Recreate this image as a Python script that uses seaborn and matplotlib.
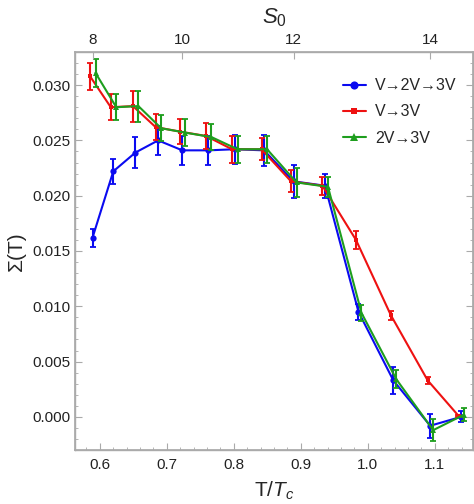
import numpy as np
import matplotlib
matplotlib.use("Agg")
import matplotlib.pyplot as plt
import matplotlib.transforms as mtransforms
from matplotlib.ticker import MultipleLocator, FormatStrFormatter
import seaborn as sns

# --- data ---
t_tc = [0.589, 0.620, 0.653, 0.687, 0.723, 0.762, 0.801,
        0.845, 0.889, 0.936, 0.986, 1.038, 1.093, 1.139]
s0 = [8.0, 8.5, 9.0, 9.5, 10.0, 10.5, 11.0,
      11.5, 12.0, 12.5, 13.0, 13.5, 14.0, 14.5]
s0_ticks = [8, 10, 12, 14]

sigma_v2v3v = [0.0162, 0.0222, 0.0239, 0.0250, 0.0241, 0.0241, 0.0242,
               0.0241, 0.0213, 0.0209, 0.0095, 0.0033, -0.0008, 0.0000]
err_v2v3v = [0.0008, 0.0011, 0.0014, 0.0013, 0.0013, 0.0013, 0.0013,
             0.0014, 0.0015, 0.0011, 0.0007, 0.0012, 0.0011, 0.0005]

sigma_v3v = [0.0308, 0.0280, 0.0281, 0.0262, 0.0258, 0.0254, 0.0242,
             0.0242, 0.0213, 0.0209, 0.0160, 0.0092, 0.0033, 0.0001]
err_v3v = [0.0012, 0.0012, 0.0014, 0.0012, 0.0011, 0.0012, 0.0012,
           0.0010, 0.0010, 0.0008, 0.0008, 0.0004, 0.0003, 0.0001]

sigma_2v3v = [0.0311, 0.0280, 0.0281, 0.0261, 0.0257, 0.0253, 0.0242,
              0.0242, 0.0212, 0.0208, 0.0094, 0.0034, -0.0012, 0.0002]
err_2v3v = [0.0013, 0.0012, 0.0014, 0.0012, 0.0012, 0.0012, 0.0012,
            0.0012, 0.0013, 0.0009, 0.0007, 0.0008, 0.0010, 0.0006]

# --- style ---
sns.set_theme(style="ticks")
plt.rcParams['font.family'] = ['Liberation Sans', 'DejaVu Sans']
plt.rcParams['mathtext.fontset'] = 'custom'
plt.rcParams['mathtext.it'] = 'Liberation Sans:italic'
plt.rcParams['mathtext.rm'] = 'Liberation Sans'
frame_col = '#aaaaaa'

fig = plt.figure(figsize=(4.74, 5.04), dpi=100)
ax = fig.add_axes([0.158, 0.107, 0.840, 0.790])

series = [
    ("V\u21922V\u21923V", sigma_v2v3v, err_v2v3v, '#0a0af0', 'o', 4.5, 0.0),
    ("V\u21923V", sigma_v3v, err_v3v, '#ee1111', 's', 3.5, -2.5),
    ("2V\u21923V", sigma_2v3v, err_2v3v, '#1e9e1e', '^', 4.5, 3.0),
]

for label, vals, errs, col, mk, ms, dx in series:
    tr = ax.transData + mtransforms.ScaledTranslation(dx / 100, 0, fig.dpi_scale_trans)
    sns.lineplot(x=t_tc, y=vals, ax=ax, color=col, marker=mk, markersize=ms,
                 markeredgewidth=0, linewidth=1.5, label=label, sort=False,
                 transform=tr)
    ax.errorbar(t_tc, vals, yerr=errs, fmt='none', ecolor=col, elinewidth=1.5,
                capsize=2.2, capthick=1.3, transform=tr)

ax.set_xlim(0.5627, 1.157)
ax.set_ylim(-0.003, 0.033)
ax.xaxis.set_major_locator(MultipleLocator(0.1))
ax.xaxis.set_minor_locator(MultipleLocator(0.02))
ax.xaxis.set_major_formatter(FormatStrFormatter('%.1f'))
ax.yaxis.set_major_locator(MultipleLocator(0.005))
ax.yaxis.set_minor_locator(MultipleLocator(0.001))
ax.yaxis.set_major_formatter(FormatStrFormatter('%.3f'))

ax.tick_params(which='both', direction='in', color=frame_col, labelsize=11,
               labelcolor='#222222', right=True, top=False)
ax.tick_params(which='major', length=5, width=0.8)
ax.tick_params(axis='x', which='major', pad=6)
ax.tick_params(which='minor', length=2.5, width=0.6)
for sp in ax.spines.values():
    sp.set_color(frame_col)
    sp.set_linewidth(1.0)

ax.set_xlabel("T/$T_c$", fontsize=15, labelpad=5)
ax.set_ylabel("\u03a3(T)", fontsize=15, labelpad=4)

# top axis in S0
top = ax.twiny()
top.set_xlim(ax.get_xlim())
top.set_xticks(np.interp(s0_ticks, s0, t_tc))
top.set_xticklabels([str(v) for v in s0_ticks])
top.tick_params(which='both', direction='in', color=frame_col, labelsize=11,
                labelcolor='#222222', length=5, width=0.8)
top.xaxis.set_minor_locator(plt.NullLocator())
for sp in top.spines.values():
    sp.set_color(frame_col)
top.set_xlabel("$S_0$", fontsize=16, labelpad=7)

leg = ax.legend(loc='upper right', bbox_to_anchor=(0.995, 0.97), frameon=False,
                fontsize=11.5, handlelength=1.4, handletextpad=0.6,
                labelspacing=0.7, markerscale=1.3)

fig.savefig("out.png", dpi=100)
